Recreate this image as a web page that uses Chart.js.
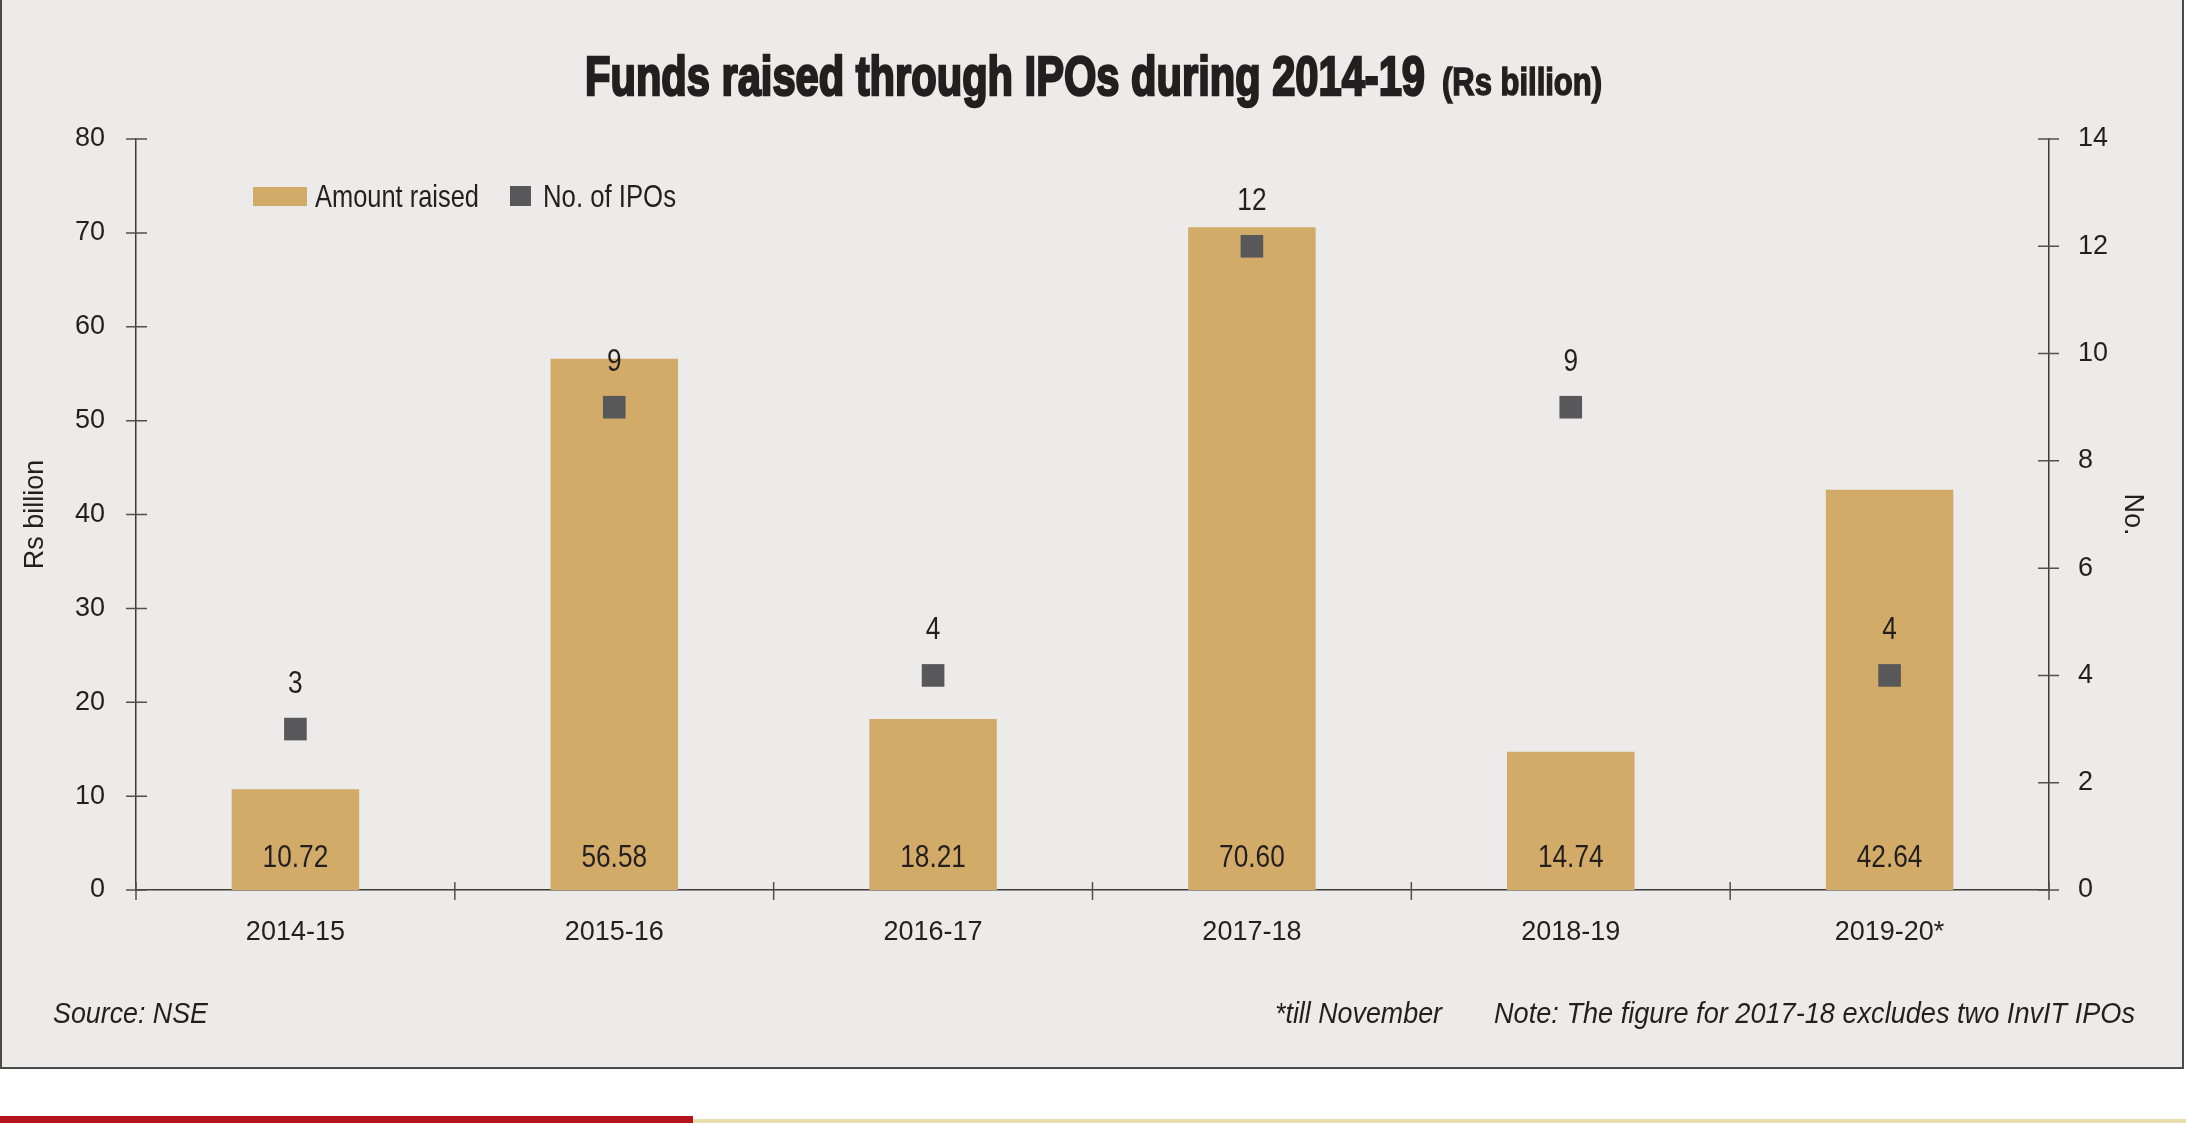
<!DOCTYPE html>
<html>
<head>
<meta charset="utf-8">
<title>Funds raised through IPOs during 2014-19</title>
<script src="https://cdn.jsdelivr.net/npm/chart.js@4.4.1/dist/chart.umd.min.js"></script>
<style>
  html, body { margin: 0; padding: 0; background: #fff; }
  canvas { display: block; }
</style>
</head>
<body>
<canvas id="ipoChart" width="2186" height="1123"></canvas>
<script>
const years = ["2014-15", "2015-16", "2016-17", "2017-18", "2018-19", "2019-20*"];
const amountRaised = [10.72, 56.58, 18.21, 70.60, 14.74, 42.64];
const ipoCount = [3, 9, 4, 12, 9, 4];
const amountTicks = [0, 10, 20, 30, 40, 50, 60, 70, 80];
const countTicks = [0, 2, 4, 6, 8, 10, 12, 14];

const BAR = "#d3ab68";
const MARK = "#58585a";
const TEXT = "#231f20";
const AXIS = "#3b3b3b";

// narrow font if the machine has it, otherwise squeeze the regular one
const probe = document.createElement("canvas").getContext("2d");
probe.font = "100px 'Liberation Sans Narrow'";
const wNarrow = probe.measureText("2014-15 Amount raised").width;
probe.font = "100px 'Liberation Sans'";
const wWide = probe.measureText("2014-15 Amount raised").width;
const hasNarrow = wNarrow < wWide * 0.9;
const FAMILY = hasNarrow ? "'Liberation Sans Narrow', sans-serif" : "'Liberation Sans', Arial, sans-serif";
const SQUEEZE = hasNarrow ? 1 : 0.82;
const TICK_SIZE = hasNarrow ? 32 : 27;

function fitText(ctx, text, left, baseline, width, font, stroke) {
  ctx.save();
  ctx.font = font;
  const w = ctx.measureText(text).width;
  ctx.translate(left, baseline);
  ctx.scale(width / w, 1);
  ctx.textAlign = "left";
  ctx.textBaseline = "alphabetic";
  ctx.fillStyle = TEXT;
  ctx.fillText(text, 0, 0);
  if (stroke) {
    ctx.strokeStyle = TEXT;
    ctx.lineWidth = stroke;
    ctx.strokeText(text, 0, 0);
  }
  ctx.restore();
}

function centerText(ctx, text, cx, cy) {
  ctx.save();
  ctx.font = "32px " + FAMILY;
  ctx.translate(cx, cy);
  ctx.scale(SQUEEZE, 1);
  ctx.textAlign = "center";
  ctx.textBaseline = "middle";
  ctx.fillStyle = TEXT;
  ctx.fillText(text, 0, 0);
  ctx.restore();
}

const frame = {
  id: "frame",
  beforeDraw(chart) {
    const ctx = chart.ctx;
    ctx.save();
    ctx.fillStyle = "#fff";
    ctx.fillRect(0, 0, 2186, 1123);
    ctx.fillStyle = "#ecebe9";
    ctx.fillRect(0, 0, 2184, 1068);
    ctx.strokeStyle = "#4a4a4a";
    ctx.lineWidth = 2;
    ctx.beginPath();
    ctx.moveTo(1, 0); ctx.lineTo(1, 1068); ctx.lineTo(2183, 1068); ctx.lineTo(2183, 0);
    ctx.stroke();
    ctx.fillStyle = "#e8dfae";
    ctx.fillRect(693, 1119, 1493, 4);
    ctx.fillStyle = "#b3131b";
    ctx.fillRect(0, 1116, 693, 7);
    ctx.restore();
  },
  afterDraw(chart) {
    const ctx = chart.ctx;
    fitText(ctx, "Funds raised through IPOs during 2014-19", 585, 95, 840, "bold 56px 'Liberation Sans'", 2.5);
    fitText(ctx, "(Rs billion)", 1442, 95, 160, "bold 38px 'Liberation Sans'", 1.5);

    // legend
    const ds = chart.data.datasets;
    ctx.fillStyle = ds[1].backgroundColor;
    ctx.fillRect(253, 187, 54, 19);
    fitText(ctx, ds[1].label, 315, 207, 164, "32px " + FAMILY);
    ctx.fillStyle = ds[0].backgroundColor;
    ctx.fillRect(510, 186, 21, 20);
    fitText(ctx, ds[0].label, 543, 207, 133, "32px " + FAMILY);

    // notes
    fitText(ctx, "Source: NSE", 53, 1023, 155, "italic 30px " + FAMILY);
    fitText(ctx, "*till November", 1275, 1023, 167, "italic 30px " + FAMILY);
    fitText(ctx, "Note: The figure for 2017-18 excludes two InvIT IPOs", 1494, 1023, 641, "italic 30px " + FAMILY);
  }
};

const valueLabels = {
  id: "valueLabels",
  afterDatasetsDraw(chart) {
    const ctx = chart.ctx;
    chart.getDatasetMeta(1).data.forEach((bar, i) => {
      centerText(ctx, amountRaised[i].toFixed(2), bar.x, bar.base - 32);
    });
    chart.getDatasetMeta(0).data.forEach((pt, i) => {
      centerText(ctx, String(ipoCount[i]), pt.x, pt.y - 45);
    });
  }
};

const axisTicks = {
  id: "axisTicks",
  afterDraw(chart) {
    const { ctx, chartArea: a, scales } = chart;
    ctx.save();
    ctx.strokeStyle = "#505050";
    ctx.lineWidth = 1.5;
    ctx.beginPath();
    scales.y.ticks.forEach(t => {
      const py = scales.y.getPixelForValue(t.value);
      ctx.moveTo(a.left - 10, py); ctx.lineTo(a.left + 11, py);
    });
    scales.y1.ticks.forEach(t => {
      const py = scales.y1.getPixelForValue(t.value);
      ctx.moveTo(a.right - 11, py); ctx.lineTo(a.right + 10, py);
    });
    for (let i = 0; i <= years.length; i++) {
      let px;
      if (i === 0) px = a.left;
      else if (i === years.length) px = a.right;
      else px = (scales.x.getPixelForValue(i - 1) + scales.x.getPixelForValue(i)) / 2;
      ctx.moveTo(px, a.bottom - 8); ctx.lineTo(px, a.bottom + 10);
    }
    ctx.stroke();
    ctx.restore();
  }
};

const tickFont = { family: FAMILY, size: TICK_SIZE };
const X_HEIGHT = 80;

new Chart(document.getElementById("ipoChart"), {
  data: {
    labels: years,
    datasets: [
      {
        type: "line",
        label: "No. of IPOs",
        data: ipoCount,
        yAxisID: "y1",
        showLine: false,
        pointStyle: "rect",
        pointRadius: 16,
        pointHoverRadius: 16,
        pointBorderWidth: 0,
        backgroundColor: MARK,
        borderColor: MARK,
        order: 0,
      },
      {
        type: "bar",
        label: "Amount raised",
        data: amountRaised,
        yAxisID: "y",
        backgroundColor: BAR,
        barPercentage: 0.8,
        categoryPercentage: 0.5,
        order: 1,
      },
    ],
  },
  options: {
    responsive: false,
    animation: false,
    devicePixelRatio: 1,
    layout: { padding: { top: 139, bottom: 1123 - 890 - X_HEIGHT, left: 0, right: 0 } },
    plugins: {
      legend: { display: false },
      tooltip: { enabled: false },
    },
    scales: {
      x: {
        grid: { display: false, drawTicks: false },
        border: { color: AXIS, width: 1.5 },
        ticks: { font: tickFont, color: TEXT, padding: 26 },
        afterFit: s => { s.height = X_HEIGHT; },
      },
      y: {
        position: "left",
        min: 0,
        max: 80,
        afterBuildTicks: s => { s.ticks = amountTicks.map(v => ({ value: v })); },
        grid: { display: false, drawTicks: false },
        border: { color: AXIS, width: 1.5 },
        ticks: { font: tickFont, color: TEXT, padding: 31 },
        title: { display: true, text: "Rs billion", font: tickFont, color: TEXT, padding: { top: 19, bottom: 0 } },
        afterFit: s => { s.width = 136; },
      },
      y1: {
        position: "right",
        min: 0,
        max: 14,
        afterBuildTicks: s => { s.ticks = countTicks.map(v => ({ value: v })); },
        grid: { display: false, drawTicks: false },
        border: { color: AXIS, width: 1.5 },
        ticks: { font: tickFont, color: TEXT, padding: 29 },
        title: { display: true, text: "No.", font: tickFont, color: TEXT, padding: { top: 37, bottom: 0 } },
        afterFit: s => { s.width = 137; },
      },
    },
  },
  plugins: [frame, valueLabels, axisTicks],
});
</script>
</body>
</html>
